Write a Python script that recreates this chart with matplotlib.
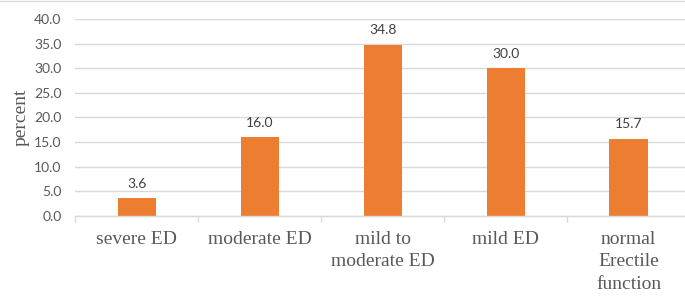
"""Bar chart of ED severity distribution (Excel-like styling)."""

import matplotlib

matplotlib.use("Agg")

import matplotlib.pyplot as plt
import numpy as np
from matplotlib.lines import Line2D

categories = ["severe ED", "moderate ED", "mild to\nmoderate ED", "mild ED", "normal\nErectile\nfunction"]
percent = [3.6, 16.0, 34.8, 30.0, 15.7]
y_ticks = [0, 5, 10, 15, 20, 25, 30, 35, 40]

BAR = "#ED7D31"
GRID = "#D9D9D9"
TEXT = "#595959"

fig = plt.figure(figsize=(6.85, 3.04), dpi=100)
ax = fig.add_axes([0.110, 0.2895, 0.8973, 0.648])

x = np.arange(len(categories))
ax.bar(x, percent, width=0.31, color=BAR, zorder=3)

for xi, v in zip(x, percent):
    ax.annotate(f"{v:.1f}", (xi, v), xytext=(0, 7.5), textcoords="offset points",
                ha="center", va="baseline", fontsize=10, color="#404040", family="Lato")

ax.set_xlim(-0.5, len(categories) - 0.5)
ax.set_ylim(0, 40)
ax.set_yticks(y_ticks)
ax.set_yticklabels([f"{t:.1f}" for t in y_ticks], family="Lato", fontsize=10, color=TEXT)
ax.tick_params(axis="y", length=0, pad=10)
ax.grid(axis="y", color=GRID, linewidth=1.0, zorder=0)

ax.set_xticks(x)
ax.set_xticklabels(categories, family="Liberation Serif", fontsize=14, color=TEXT, linespacing=1.4)
ax.tick_params(axis="x", which="major", length=0, pad=11)
ax.set_xticks(np.arange(len(categories) + 1) - 0.5, minor=True)
ax.tick_params(axis="x", which="minor", length=4.5, color=GRID, width=1.0)

for side in ["left", "right", "top"]:
    ax.spines[side].set_visible(False)
ax.spines["bottom"].set_color(GRID)
ax.spines["bottom"].set_linewidth(1.0)
ax.spines["bottom"].set_zorder(4)

ax.set_ylabel("percent", family="Liberation Serif", fontsize=14, color=TEXT)
ax.yaxis.set_label_coords(-0.075, 0.5)

# thin chart-area border at the top edge
fig.add_artist(Line2D([0, 1], [0.998, 0.998], transform=fig.transFigure, color=GRID, linewidth=1.0))

fig.savefig("out.png", dpi=100)
plt.close(fig)
